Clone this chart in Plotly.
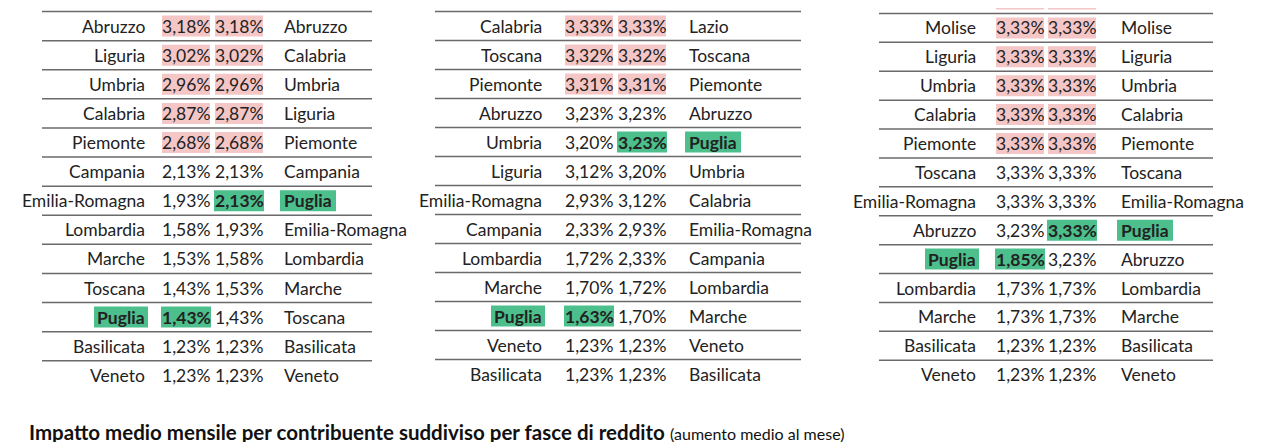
import plotly.graph_objects as go

P1 = dict(left=["Molise","Abruzzo","Liguria","Umbria","Calabria","Piemonte","Campania","Emilia-Romagna","Lombardia","Marche","Toscana","Puglia","Basilicata","Veneto"],
          v1=["3,33%","3,18%","3,02%","2,96%","2,87%","2,68%","2,13%","1,93%","1,58%","1,53%","1,43%","1,43%","1,23%","1,23%"],
          v2=["3,33%","3,18%","3,02%","2,96%","2,87%","2,68%","2,13%","2,13%","1,93%","1,58%","1,53%","1,43%","1,23%","1,23%"],
          right=["Molise","Abruzzo","Calabria","Umbria","Liguria","Piemonte","Campania","Puglia","Emilia-Romagna","Lombardia","Marche","Toscana","Basilicata","Veneto"],
          pink=6, gl=11, gr=7)
P2 = dict(left=["Lazio","Calabria","Toscana","Piemonte","Abruzzo","Umbria","Liguria","Emilia-Romagna","Campania","Lombardia","Marche","Puglia","Veneto","Basilicata"],
          v1=["3,33%","3,33%","3,32%","3,31%","3,23%","3,20%","3,12%","2,93%","2,33%","1,72%","1,70%","1,63%","1,23%","1,23%"],
          v2=["3,33%","3,33%","3,32%","3,31%","3,23%","3,23%","3,20%","3,12%","2,93%","2,33%","1,72%","1,70%","1,23%","1,23%"],
          right=["Liguria","Lazio","Toscana","Piemonte","Abruzzo","Puglia","Umbria","Calabria","Emilia-Romagna","Campania","Lombardia","Marche","Veneto","Basilicata"],
          pink=4, gl=11, gr=5)
P3 = dict(left=["Lazio","Molise","Liguria","Umbria","Calabria","Piemonte","Toscana","Emilia-Romagna","Abruzzo","Puglia","Lombardia","Marche","Basilicata","Veneto"],
          v1=["3,33%","3,33%","3,33%","3,33%","3,33%","3,33%","3,33%","3,33%","3,23%","1,85%","1,73%","1,73%","1,23%","1,23%"],
          v2=["3,33%","3,33%","3,33%","3,33%","3,33%","3,33%","3,33%","3,33%","3,33%","3,23%","1,73%","1,73%","1,23%","1,23%"],
          right=["Lazio","Molise","Liguria","Umbria","Calabria","Piemonte","Toscana","Emilia-Romagna","Puglia","Abruzzo","Lombardia","Marche","Basilicata","Veneto"],
          pink=6, gl=9, gr=8)

# geometry: name right edge, v1 center, v2 center, right name left, line x0, line x1, row0 y, step
GEOM = [(147,186,239,282,42,372,-3,29.1),
        (544,589,642,687,435,801,-3,29.0),
        (978,1020,1072,1119,879,1213,-1,28.9)]

PINK = "#f5c6c6"
GREEN = "#4cbf8c"
FONT = "Lato"
fig = go.Figure()
shapes, ann = [], []

def box(xc, y, w, color):
    shapes.append(dict(type="rect", x0=xc-w/2, x1=xc+w/2, y0=y-10.5, y1=y+10.5,
                       fillcolor=color, line=dict(width=0), layer="below"))

def txt(x, y, s, anchor, bold=False):
    ann.append(dict(x=x, y=y, text=f"<b>{s}</b>" if bold else s, showarrow=False,
                    xanchor=anchor, yanchor="middle", font=dict(family=FONT, size=17.5, color="#222")))

for P, (xn, c1, c2, xr, l0, l1, y0, dy) in zip([P1, P2, P3], GEOM):
    n = len(P["left"])
    for i in range(n):
        y = y0 + i*dy
        if i < n-1:
            shapes.append(dict(type="line", x0=l0, x1=l1, y0=y+dy/2, y1=y+dy/2,
                               line=dict(color="#6a6a6a", width=1.5)))
        gl = i == P["gl"]; gr = i == P["gr"]
        if i < P["pink"]:
            box(c1, y, 48, PINK); box(c2, y, 48, PINK)
        if gl:
            box(c1, y, 50, GREEN); box(xn-26, y, 54, GREEN)
        if gr:
            box(c2, y, 50, GREEN); box(xr+26, y, 56, GREEN)
        txt(xn, y, P["left"][i], "right", gl)
        txt(c1, y, P["v1"][i], "center", gl)
        txt(c2, y, P["v2"][i], "center", gr)
        txt(xr, y, P["right"][i], "left", gr)

ann.append(dict(x=27, y=432, xanchor="left", yanchor="middle", showarrow=False,
                text="<b>Impatto medio mensile per contribuente suddiviso per fasce di reddito</b> <span style='font-size:16px'>(aumento medio al mese)</span>",
                font=dict(family=FONT, size=20.5, color="#111")))

# page body has an 8px margin: offset axis ranges so coordinates match window pixels
fig.update_layout(width=1280, height=442, margin=dict(l=0, r=0, t=0, b=0),
                  plot_bgcolor="white", paper_bgcolor="white", shapes=shapes, annotations=ann,
                  xaxis=dict(range=[8,1288], visible=False, fixedrange=True),
                  yaxis=dict(range=[450,8], visible=False, fixedrange=True), showlegend=False)
fig.write_html("out.html")
